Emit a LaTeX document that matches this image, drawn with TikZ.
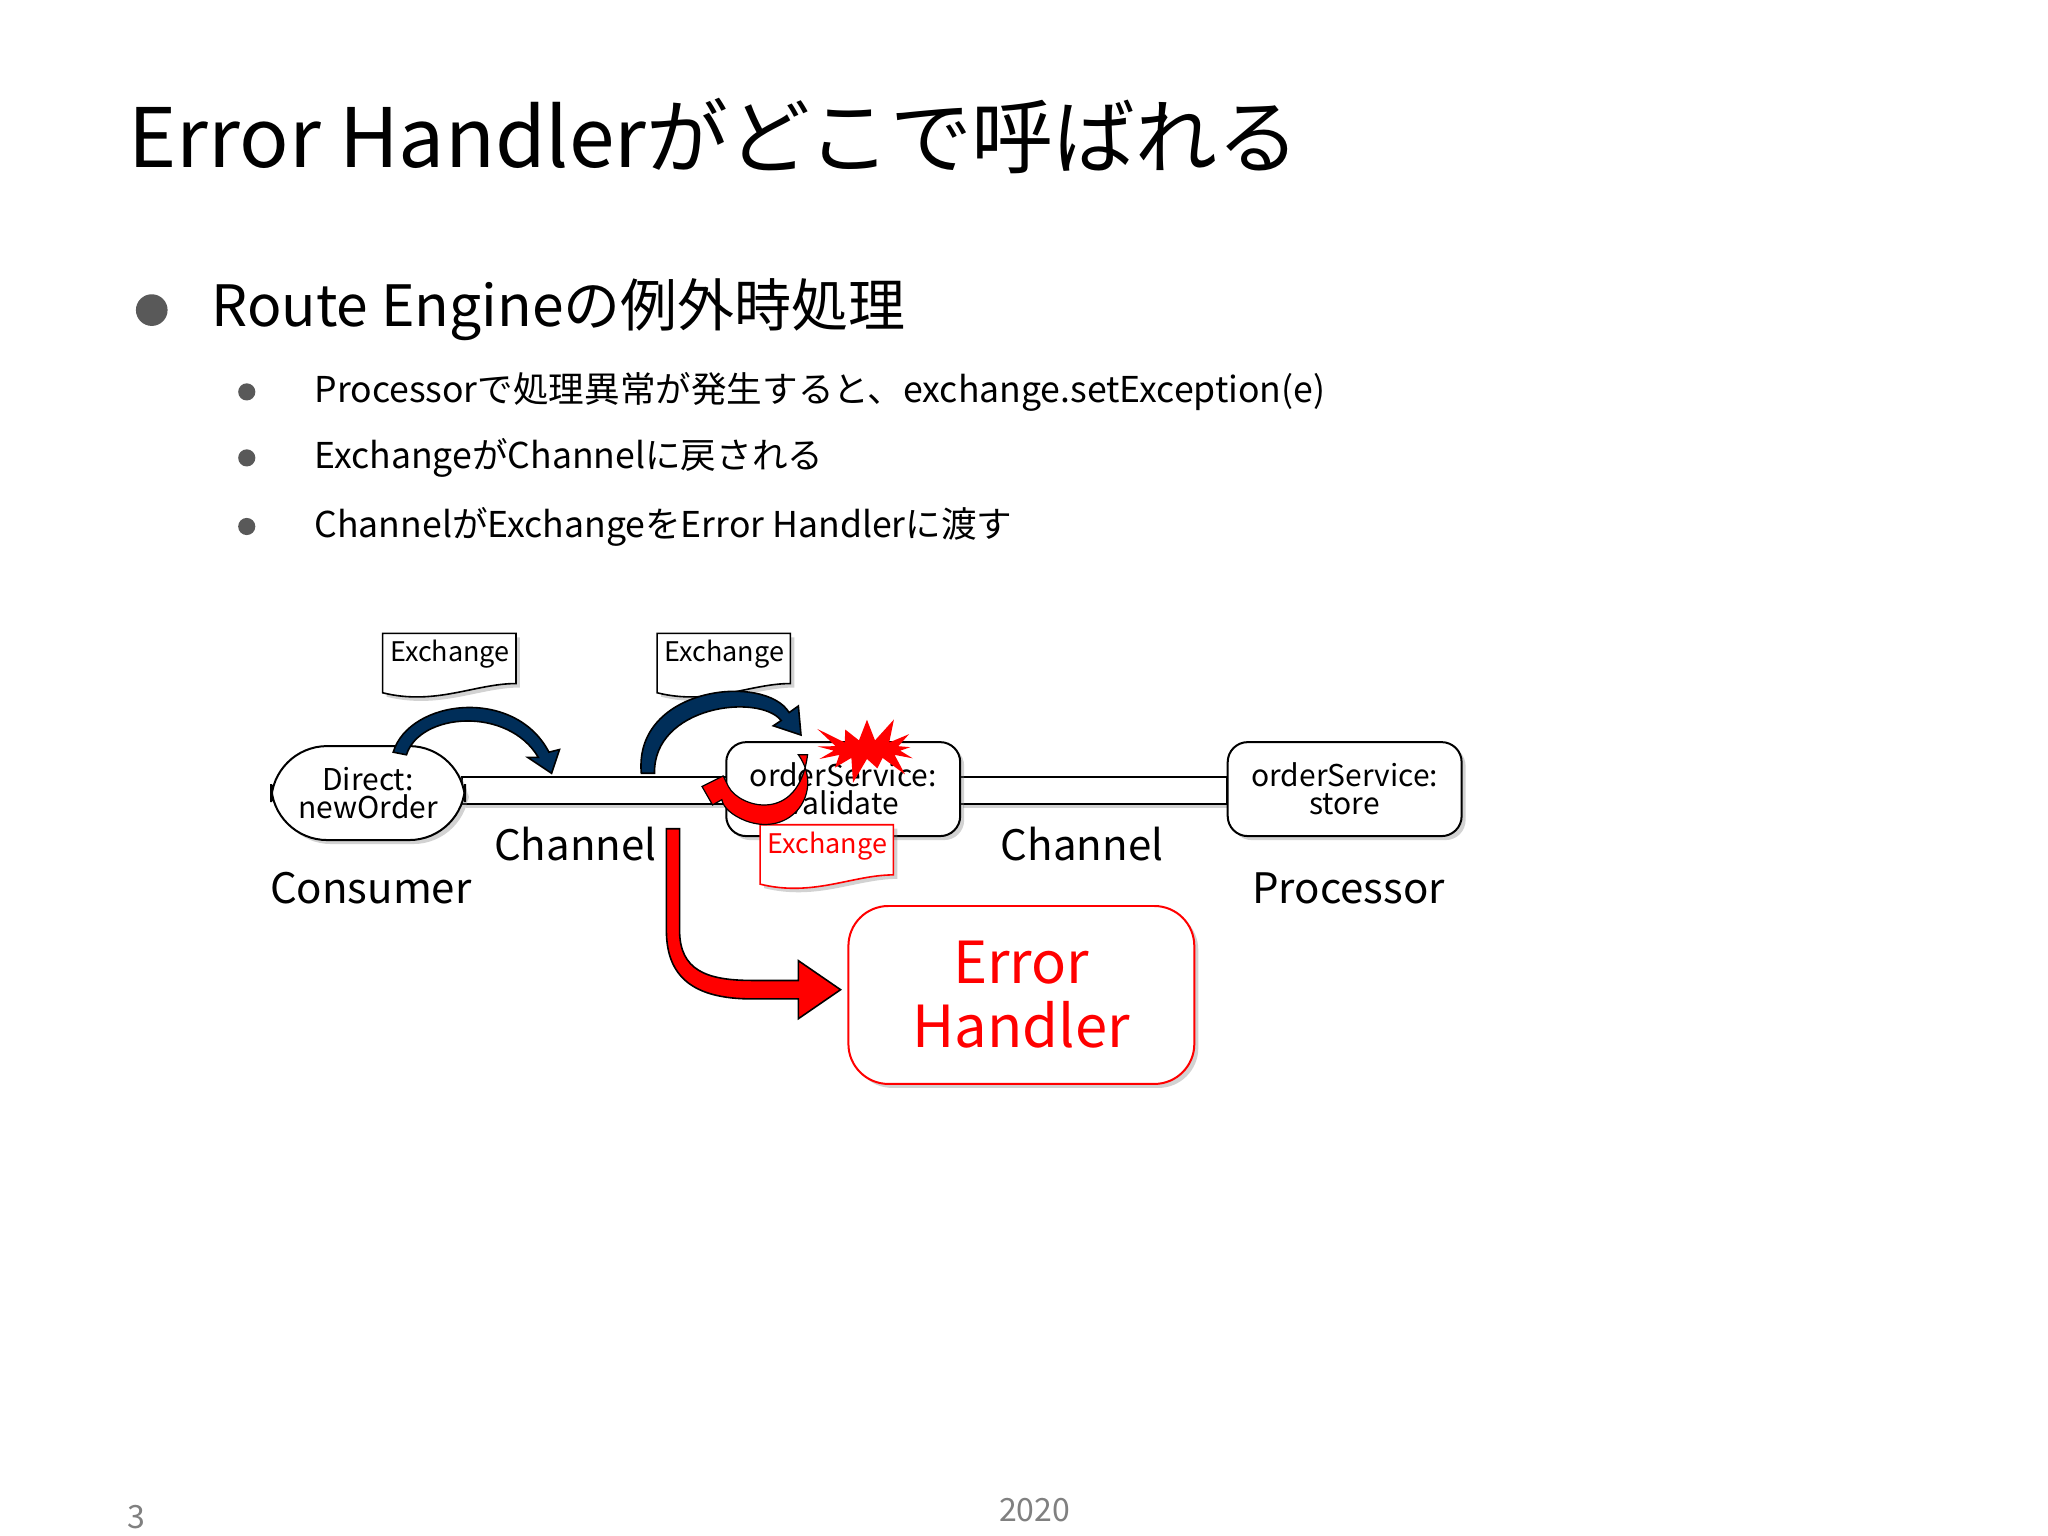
\documentclass[tikz,border=0pt]{standalone}
\usepackage{fontspec}
\setmainfont{Noto Sans CJK JP}
\usetikzlibrary{shadows,shapes.symbols,arrows.meta}
\begin{document}
\begin{tikzpicture}[x=0.66pt,y=-0.66pt,
  box/.style={draw=black,line width=1pt,fill=white,rounded corners=10pt,drop shadow={opacity=0.35,shadow xshift=2pt,shadow yshift=-2pt}},
  lbl/.style={font=\fontsize{21}{24}\selectfont,anchor=center},
  inb/.style={font=\fontsize{15}{14}\selectfont,align=center,inner sep=0pt},
  doc/.style={font=\fontsize{13.5}{14}\selectfont,inner sep=0pt},
  bluearr/.style={draw=black,fill=blue!40!black!70!cyan!60!black,line width=0.8pt},
]
\useasboundingbox (0,0) rectangle (1552,1164);
\fill[white] (0,0) rectangle (1552,1164);
\node[anchor=west,font=\fontsize{41}{46}\selectfont] (title) at (92,103) {Error Handlerがどこで呼ばれる};
\fill[black!65] (115,235) circle (12) coordinate (b1);
\node[anchor=west,font=\fontsize{28.5}{32}\selectfont] (l1) at (155,235) {Route Engineの例外時処理};
\foreach \y/\t [count=\i] in {297/Processorで処理異常が発生すると、exchange.setException(e),347/ExchangeがChannelに戻される,399/ChannelがExchangeをError Handlerに渡す}{
  \fill[black!65] (187,\y) circle (6.5);
  \node[anchor=west,font=\fontsize{17.8}{20}\selectfont] (s\i) at (233,\y) {\t};
}
% channels
\draw[box,rounded corners=0pt] (350,589) rectangle (553,609);
\draw[box,rounded corners=0pt] (727,589) rectangle (930,609);
\node[box,rounded corners=28pt,minimum width=97pt,minimum height=47pt] (direct) at (279,601) {};
\node[inb] at (direct) {Direct:\\newOrder};
\node[box,minimum width=117pt,minimum height=47pt] (validate) at (639,598) {};
\node[inb] at (validate) {orderService:\\validate};
\node[box,minimum width=117pt,minimum height=47pt] (store) at (1019,598) {};
\node[inb] at (store) {orderService:\\store};
\node[lbl] (ch1) at (436,640) {Channel};
\node[lbl] (ch2) at (820,640) {Channel};
\node[lbl] (cons) at (281,673) {Consumer};
\node[lbl] (proc) at (1022,673) {Processor};
% exchange docs
\foreach \x/\y/\c/\n in {290/480/black/d1,498/480/black/d2,576/625/red/d3}{
  \draw[draw=\c,fill=white,line width=0.8pt,drop shadow={opacity=0.35,shadow xshift=2pt,shadow yshift=-2pt}]
    (\x,\y) -- (\x+101,\y) -- (\x+101,\y+38) .. controls (\x+70,\y+38) and (\x+40,\y+55) .. (\x,\y+45) -- cycle;
  \node[doc,text=\c] (\n) at (\x+51,\y+16) {Exchange};
}
% blue arrows
\fill[bluearr] (298,570) .. controls (310,530) and (390,520) .. (416,570) -- (424,568) -- (418,586) -- (400,574) -- (408,574)
  .. controls (385,535) and (318,540) .. (308,572) -- cycle;
\fill[bluearr] (486,586) .. controls (480,520) and (580,510) .. (598,540) -- (605,535) -- (607,557) -- (586,550) -- (592,546)
  .. controls (575,525) and (495,535) .. (496,586) -- cycle;
% starburst
\node[starburst,fill=red,draw=none,minimum width=62pt,minimum height=30pt,starburst points=13] (boom) at (657,568) {};
% red loop arrow
\draw[draw=black,fill=red,line width=0.6pt] (605,572) .. controls (625,600) and (600,635) .. (565,622) .. controls (555,618) and (548,612) .. (547,606)
  -- (540,610) -- (532,596) -- (548,588) -- (552,596) .. controls (560,612) and (605,625) .. (612,572) -- cycle;
% red big arrow
\draw[draw=black,fill=red,line width=0.8pt] (505,628) -- (515,628) -- (515,705) .. controls (515,735) and (535,743) .. (570,743) -- (605,743) -- (605,728) -- (637,750) -- (605,772) -- (605,757) -- (570,757) .. controls (525,757) and (505,740) .. (505,705) -- cycle;
\node[draw=red,line width=1pt,fill=white,rounded corners=20pt,minimum width=173pt,minimum height=89pt,drop shadow={opacity=0.35,shadow xshift=2pt,shadow yshift=-2pt}] (eh) at (774,754) {};
\node[text=red,font=\fontsize{29}{32}\selectfont,align=center] at (eh) {Error\\Handler};
\node[text=black!50,font=\fontsize{16}{18}\selectfont] (pg) at (103,1150) {3};
\node[text=black!50,font=\fontsize{16}{18}\selectfont] (yr) at (784,1144) {2020};
\end{tikzpicture}
\end{document}
